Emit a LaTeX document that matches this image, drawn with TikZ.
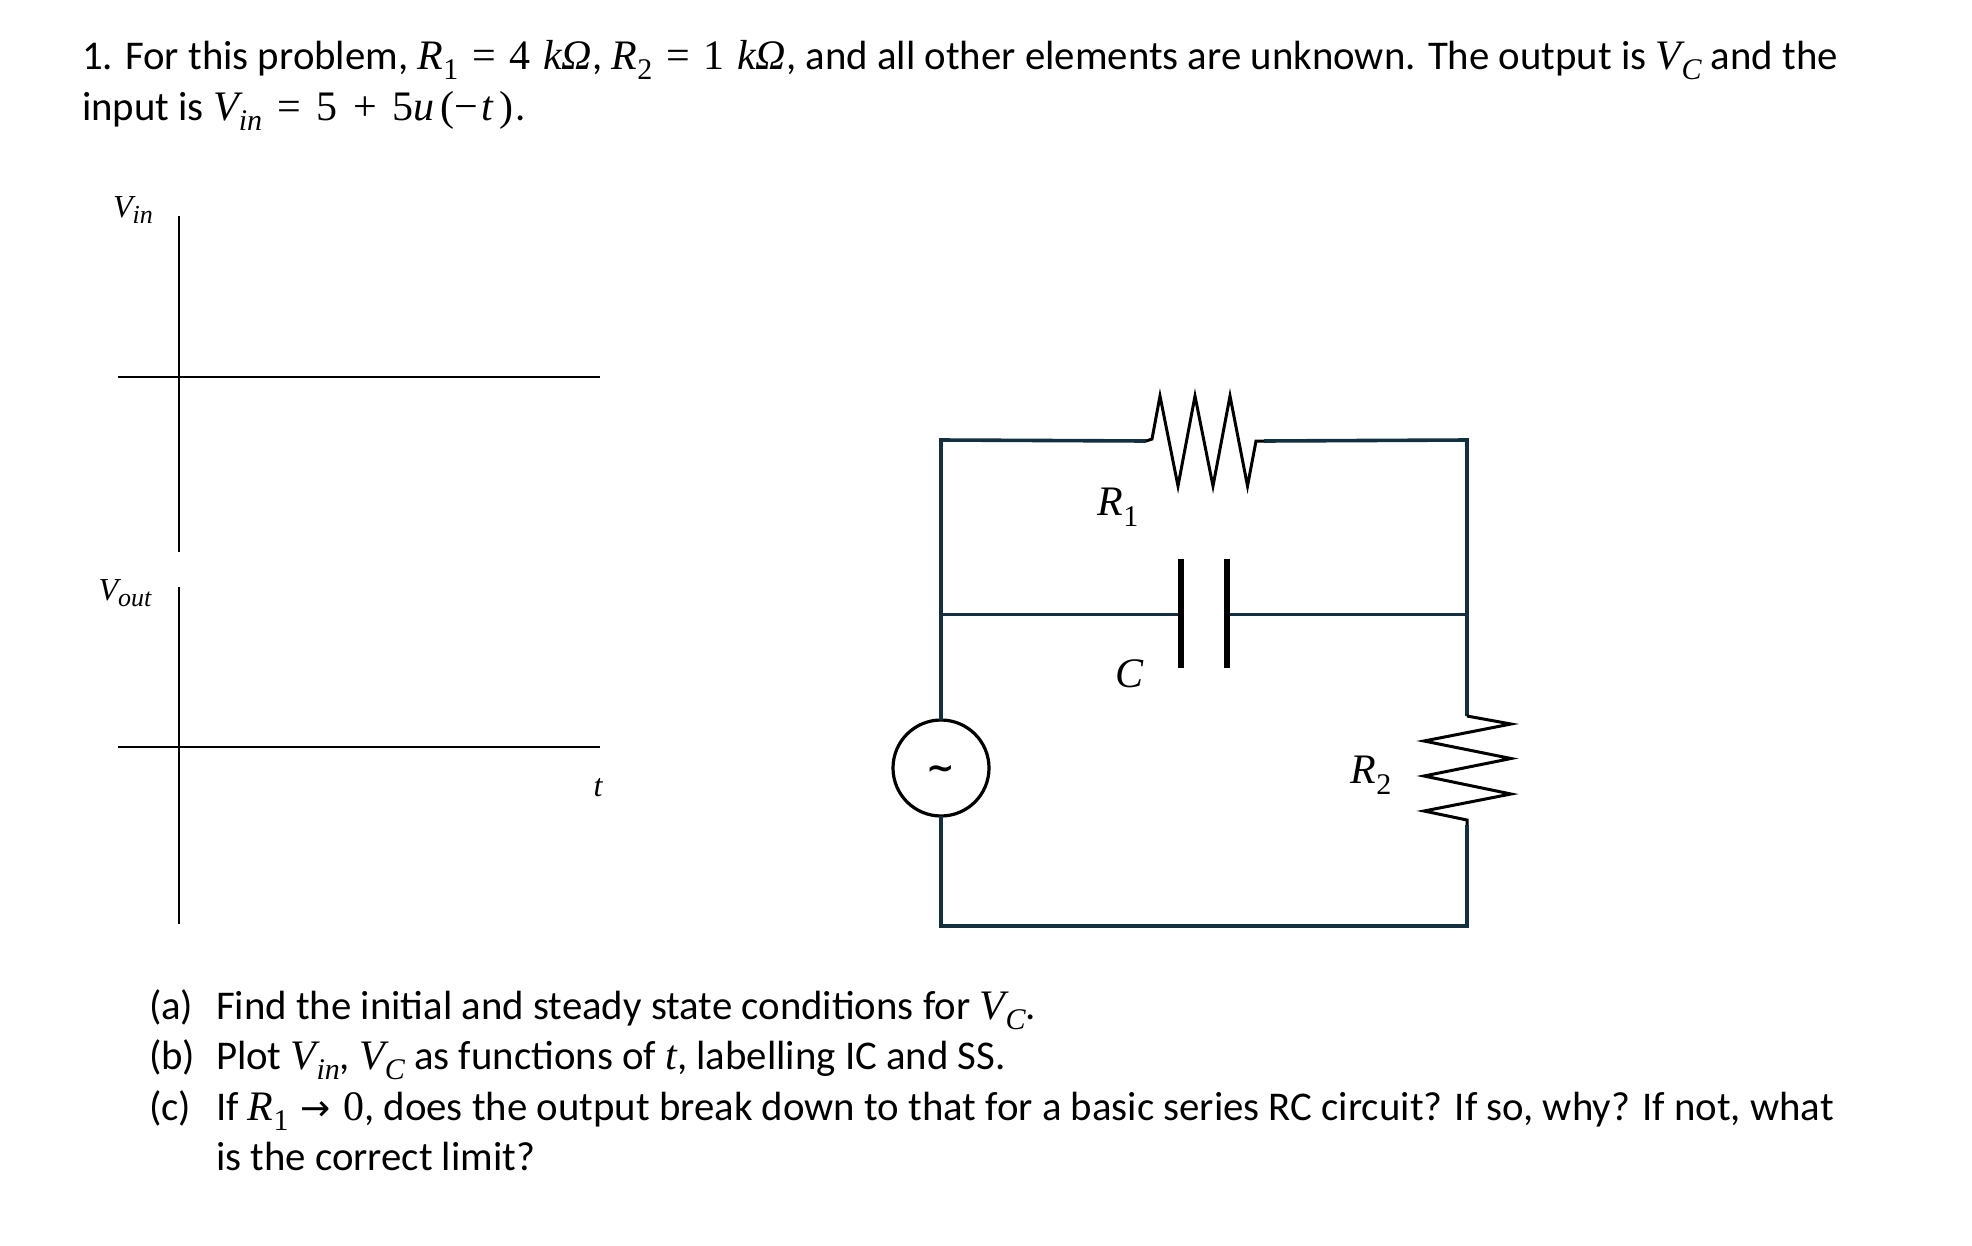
\documentclass[tikz,border=0pt]{standalone}
\usepackage{fontspec}
\setmainfont{Carlito}
\newfontfamily\mfam{Liberation Serif}
\newfontfamily\symfam{DejaVu Sans}
\newcommand{\mv}[1]{{\fontsize{42}{45}\selectfont\mfam\itshape #1}}
\newcommand{\mr}[1]{{\fontsize{42}{45}\selectfont\mfam\upshape #1}}
\newcommand{\sbs}[1]{\raisebox{-0.26em}{\fontsize{30}{30}\selectfont\mfam\upshape #1}}
\newcommand{\sbi}[1]{\raisebox{-0.26em}{\fontsize{30}{30}\selectfont\mfam\itshape #1}}
\newcommand{\sba}[1]{\raisebox{-0.2em}{\fontsize{26}{26}\selectfont\mfam\itshape #1}}
\newcommand{\op}[1]{\hspace{0.34em}{\fontsize{42}{45}\selectfont\mfam #1}\hspace{0.34em}}
\newcommand{\opw}[1]{\hspace{0.38em}{\fontsize{42}{45}\selectfont\mfam #1}\hspace{0.38em}}
\definecolor{wire}{HTML}{12303F}
\tikzset{
  txt/.style={anchor=base west,inner sep=0pt,outer sep=0pt,font=\fontsize{40.8}{45}\selectfont},
  lbl/.style={inner sep=0pt,outer sep=0pt},
  axlbl/.style={inner sep=0pt,outer sep=0pt},
  axisline/.style={draw=black,line width=2pt},
  wirethick/.style={draw=wire,line width=3.6pt,line join=miter},
  wirethin/.style={draw=wire,line width=2.4pt},
  comp/.style={draw=black,line width=3pt,line join=miter},
  plate/.style={draw=black,line width=5.5pt},
}
\begin{document}
\begin{tikzpicture}[x=1pt,y=-1pt]
\useasboundingbox (0,0) rectangle (1972,1245);
% problem text
\node[txt] (l1) at (82,69) {1. For this problem, \mv{R}\sbs{1}\op{=}\mr{4}\hspace{0.08em} \mv{kΩ}, \mv{R}\sbs{2}\op{=}\mr{1}\hspace{0.08em} \mv{kΩ}, and all other elements are unknown. The output is \mv{V}\sbi{C} and the};
\node[txt] (l2) at (82,120) {input is \mv{V}\sbi{in}\opw{=}\mr{5}\opw{+}\mr{5}\mv{u}\hspace{0.14em}\mr{(−}\hspace{0.1em}\mv{t}\hspace{0.14em}\mr{)}\hspace{0.06em}.};
% axes
\coordinate (a1t) at (178.6,216); \coordinate (a1b) at (178.6,552);
\coordinate (a1l) at (118,377); \coordinate (a1r) at (600,377);
\coordinate (a2t) at (178.6,587); \coordinate (a2b) at (178.6,924);
\coordinate (a2l) at (118,746.5); \coordinate (a2r) at (600,746.5);
\draw[axisline] (a1t) -- (a1b);
\draw[axisline] (a1l) -- (a1r);
\draw[axisline] (a2t) -- (a2b);
\draw[axisline] (a2l) -- (a2r);
\node[axlbl] (vin) at (133,210) {\fontsize{32}{36}\selectfont\mfam\itshape V\sba{in}};
\node[axlbl] (vout) at (125,593) {\fontsize{32}{36}\selectfont\mfam\itshape V\sba{out}};
\node[axlbl] (tlab) at (598,788) {\fontsize{32}{36}\selectfont\mfam\itshape t};
% circuit
\node[draw=black,line width=3.2pt,circle,minimum size=96pt,inner sep=0pt,outer sep=0pt] (src) at (941,768) {\raisebox{-11pt}[0pt][0pt]{\fontsize{34}{34}\selectfont\bfseries\symfam\char"7E}};
\coordinate (tl) at (941,440); \coordinate (tr) at (1467,440);
\coordinate (bl) at (941,926); \coordinate (br) at (1467,926);
\coordinate (ml) at (941,614.5); \coordinate (mr) at (1467,614.5);
\coordinate (r1a) at (1146,441); \coordinate (r1b) at (1264,441);
\coordinate (r2a) at (1467,716); \coordinate (r2b) at (1467,825);
\coordinate (capl) at (1181,614.5); \coordinate (capr) at (1227,614.5);
\draw[wirethick] (src.north) -- (tl) -- (r1a);
\draw[wirethick] (r1b) -- (tr) -- (r2a);
\draw[wirethick] (r2b) -- (br) -- (bl) -- (src.south);
\draw[wirethin] (ml) -- (capl);
\draw[wirethin] (capr) -- (mr);
\draw[comp] (r1a) -- (1152,439) -- (1160,396) -- (1178,486) -- (1195,396) -- (1213,486) -- (1230,396) -- (1247.5,486) -- (1256,441) -- (r1b);
\draw[comp] (r2a) -- (1511,724) -- (1424,741) -- (1511,758.5) -- (1424,776) -- (1511,794) -- (1424,811) -- (1467,820) -- (r2b);
\draw[plate] (1181,559) -- (1181,668);
\draw[plate] (1227,559) -- (1227,668);
\node[lbl] (r1lab) at (1118,507) {\fontsize{42}{45}\selectfont\mfam\itshape R\sbs{1}};
\node[lbl] (clab) at (1129,674) {\fontsize{42}{45}\selectfont\mfam\itshape C};
\node[lbl] (r2lab) at (1371,775) {\fontsize{42}{45}\selectfont\mfam\itshape R\sbs{2}};
% questions
\node[txt] (qa) at (149,1019) {(a)};
\node[txt] (ta) at (216,1019) {Find the initial and steady state conditions for \mv{V}\sbi{C}.};
\node[txt] (qb) at (149,1069) {(b)};
\node[txt] (tb) at (216,1069) {Plot \mv{V}\sbi{in}, \mv{V}\sbi{C} as functions of \mv{t}, labelling IC and SS.};
\node[txt] (qc) at (149,1120) {(c)};
\node[txt] (tc) at (216,1120) {If \mv{R}\sbs{1}\hspace{0.3em}{\fontsize{36}{40}\selectfont\symfam →}\hspace{0.3em}\mr{0}, does the output break down to that for a basic series RC circuit? If so, why? If not, what};
\node[txt] (td) at (216,1170) {is the correct limit?};
\end{tikzpicture}
\end{document}
